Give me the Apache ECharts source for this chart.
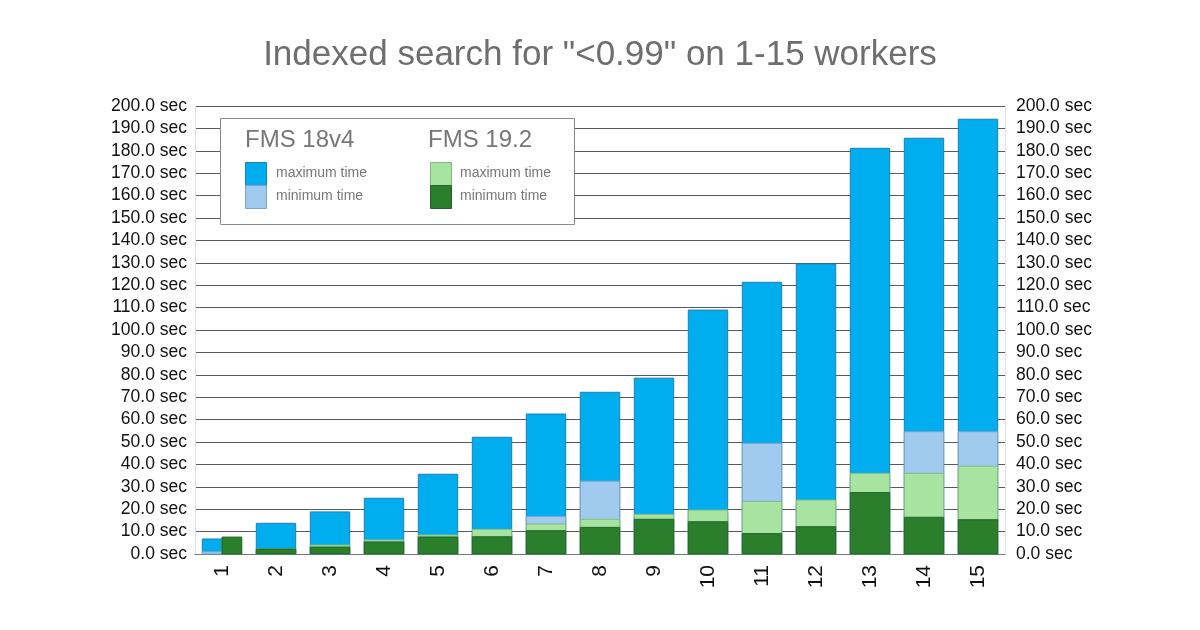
<!DOCTYPE html>
<html>
<head>
<meta charset="utf-8">
<script src="https://cdn.jsdelivr.net/npm/echarts@6/dist/echarts.min.js"></script>
<style>
  html, body { margin: 0; padding: 0; background: #fff; }
  #chart { width: 1200px; height: 630px; }
</style>
</head>
<body>
<div id="chart"></div>
<script>
// worker counts on the x axis
var workers = ['1', '2', '3', '4', '5', '6', '7', '8', '9', '10', '11', '12', '13', '14', '15'];
// FMS 18v4 (seconds)
var fms18Max = [6.7, 13.7, 18.8, 24.9, 35.6, 52.1, 62.5, 72.2, 78.5, 108.9, 121.3, 129.5, 181.1, 185.6, 194.1];
var fms18Min = [1.0, 2.0, 3.0, 5.0, 7.0, 9.0, 16.8, 32.5, 16.0, 18.0, 49.4, 22.0, 34.0, 54.6, 54.6];
// FMS 19.2 (seconds)
var fms19Max = [7.5, 2.3, 4.0, 6.3, 8.5, 11.0, 13.4, 15.5, 17.7, 19.6, 23.5, 24.1, 36.0, 36.0, 39.2];
var fms19Min = [7.5, 2.2, 3.1, 5.4, 7.6, 7.7, 10.4, 11.9, 15.5, 14.4, 9.1, 12.2, 27.4, 16.4, 15.3];
// y axis range
var yMin = 0, yMax = 200, yStep = 10;

// in the original the first column is split: 18v4 left half, 19.2 right half
var splitCats = ['1'];

var chart = echarts.init(document.getElementById('chart'));

// draws one column through the axes; side = 'left' | 'right' used on split columns
function columnRenderer(fill, stroke, side) {
  return function (params, api) {
    var idx = api.value(0);
    var val = api.value(1);
    var base = api.coord([idx, 0]);
    var top = api.coord([idx, val]);
    var w = api.size([1, 0])[0] * 0.73;
    var x = base[0] - w / 2;
    if (splitCats.indexOf(workers[idx]) >= 0) {
      w = w / 2;
      if (side === 'right') x = x + w;
    }
    return {
      type: 'rect',
      shape: { x: x, y: top[1], width: w, height: base[1] - top[1] },
      style: { fill: fill, stroke: stroke, lineWidth: 1 }
    };
  };
}

function pairs(arr) {
  return arr.map(function (v, i) { return [i, v]; });
}

var secLabel = function (v) { return v.toFixed(1) + ' sec'; };

var option = {
  backgroundColor: '#fff',
  animation: false,
  title: {
    text: 'Indexed search for "<0.99" on 1-15 workers',
    left: 'center',
    top: 33,
    textStyle: { fontFamily: 'Liberation Sans', fontSize: 35, fontWeight: 'normal', color: '#6e6e6e' }
  },
  grid: { left: 195, right: 195, top: 106, bottom: 76 },
  xAxis: {
    type: 'category',
    data: workers,
    axisTick: { show: false },
    axisLine: { lineStyle: { color: '#777', width: 1 } },
    axisLabel: { rotate: 90, margin: 11, fontSize: 21, color: '#111', fontFamily: 'Liberation Sans' }
  },
  yAxis: [{
    type: 'value',
    min: yMin, max: yMax, interval: yStep,
    position: 'left',
    axisLine: { show: true, lineStyle: { color: '#e2e2e2' } },
    axisTick: { show: false },
    splitLine: { show: true, lineStyle: { color: '#5a5a5a', width: 1 } },
    axisLabel: { formatter: secLabel, fontSize: 17.5, color: '#111', margin: 8, fontFamily: 'Liberation Sans' }
  }, {
    type: 'value',
    min: yMin, max: yMax, interval: yStep,
    position: 'right',
    axisLine: { show: true, lineStyle: { color: '#e2e2e2' } },
    axisTick: { show: false },
    splitLine: { show: false },
    axisLabel: { formatter: secLabel, fontSize: 17.5, color: '#111', margin: 11, fontFamily: 'Liberation Sans' }
  }],
  series: [
    { name: 'FMS 18v4 maximum time', type: 'custom', data: pairs(fms18Max),
      renderItem: columnRenderer('#00aeef', '#1f7fae', 'left'), encode: { x: 0, y: 1 } },
    { name: 'FMS 18v4 minimum time', type: 'custom', data: pairs(fms18Min),
      renderItem: columnRenderer('#a0cbef', '#7fa3c2', 'left'), encode: { x: 0, y: 1 } },
    { name: 'FMS 19.2 maximum time', type: 'custom', data: pairs(fms19Max),
      renderItem: columnRenderer('#a7e4a1', '#86b883', 'right'), encode: { x: 0, y: 1 } },
    { name: 'FMS 19.2 minimum time', type: 'custom', data: pairs(fms19Min),
      renderItem: columnRenderer('#2b7e2b', '#23652a', 'right'), encode: { x: 0, y: 1 } }
  ],
  // legend box drawn by hand (two titled groups)
  graphic: [
    { type: 'rect', left: 220, top: 118, z: 100,
      shape: { width: 354, height: 106 },
      style: { fill: '#fff', stroke: '#8a8a8a', lineWidth: 1 } },
    { type: 'text', left: 245, top: 128, z: 101,
      style: { text: 'FMS 18v4', fontSize: 24, fill: '#777', fontFamily: 'Liberation Sans' } },
    { type: 'rect', left: 245, top: 162, z: 101, shape: { width: 21, height: 23 },
      style: { fill: '#00aeef', stroke: '#1f7fae' } },
    { type: 'rect', left: 245, top: 185, z: 101, shape: { width: 21, height: 23 },
      style: { fill: '#a0cbef', stroke: '#7fa3c2' } },
    { type: 'text', left: 276, top: 166, z: 101,
      style: { text: 'maximum time', fontSize: 14, fill: '#777', fontFamily: 'Liberation Sans' } },
    { type: 'text', left: 276, top: 189, z: 101,
      style: { text: 'minimum time', fontSize: 14, fill: '#777', fontFamily: 'Liberation Sans' } },
    { type: 'text', left: 428, top: 128, z: 101,
      style: { text: 'FMS 19.2', fontSize: 24, fill: '#777', fontFamily: 'Liberation Sans' } },
    { type: 'rect', left: 430, top: 162, z: 101, shape: { width: 21, height: 23 },
      style: { fill: '#a7e4a1', stroke: '#86b883' } },
    { type: 'rect', left: 430, top: 185, z: 101, shape: { width: 21, height: 23 },
      style: { fill: '#2b7e2b', stroke: '#23652a' } },
    { type: 'text', left: 460, top: 166, z: 101,
      style: { text: 'maximum time', fontSize: 14, fill: '#777', fontFamily: 'Liberation Sans' } },
    { type: 'text', left: 460, top: 189, z: 101,
      style: { text: 'minimum time', fontSize: 14, fill: '#777', fontFamily: 'Liberation Sans' } }
  ]
};

chart.setOption(option);
</script>
</body>
</html>
